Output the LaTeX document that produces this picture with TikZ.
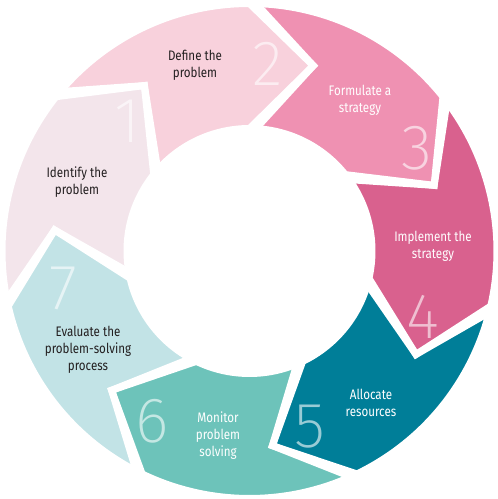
\documentclass[tikz,border=0pt]{standalone}
\usepackage{xcolor}
\usepackage{fontspec}
\setmainfont{Fira Sans}[FakeStretch=0.84]
\newfontfamily\numfont{Fira Sans ExtraLight}
\definecolor{segA}{HTML}{F3E5EB}
\definecolor{segB}{HTML}{F8D1DC}
\definecolor{segC}{HTML}{EF91B2}
\definecolor{segD}{HTML}{D9618E}
\definecolor{segE}{HTML}{007E98}
\definecolor{segF}{HTML}{6DC3BA}
\definecolor{segG}{HTML}{C2E3E6}
\definecolor{lbldark}{HTML}{231F20}
% one curved arrow of the ring: start angle, end angle, notch angle, tip angle
\newcommand{\segpath}[4]{%
  (#1:247.5) arc[start angle=#1, end angle=#2, radius=247.5] -- (#2:254.5) -- (#4:196)
  -- (#2:115.5) -- (#2:122.5) arc[start angle=#2, end angle=#1, radius=122.5] -- (#3:196) -- cycle}

\begin{document}
\begin{tikzpicture}[x=1pt, y=1pt, every node/.style={font=\fontsize{13.8}{17}\selectfont, align=center},
    darklbl/.style={text=lbldark}, lightlbl/.style={text=white},
    numlbl/.style={font=\numfont\fontsize{64}{64}\selectfont, text=white, opacity=0.6}]
  \useasboundingbox (-249.5,-248) rectangle (248.5,251);
  % fills first, then the white gaps on top
  \foreach \k/\col in {1/segA, 2/segB, 3/segC, 4/segD, 5/segE, 6/segF, 7/segG} {
    \pgfmathsetmacro\endA{90+51.4286*(2-\k)}
    \pgfmathsetmacro\startA{\endA+51.4286}
    \pgfmathsetmacro\notchA{\startA-19}
    \pgfmathsetmacro\tipA{\endA-19}
    \fill[\col] \segpath{\startA}{\endA}{\notchA}{\tipA};
  }
  \foreach \k in {1,...,7} {
    \pgfmathsetmacro\endA{90+51.4286*(2-\k)}
    \pgfmathsetmacro\startA{\endA+51.4286}
    \pgfmathsetmacro\notchA{\startA-19}
    \pgfmathsetmacro\tipA{\endA-19}
    \draw[white, line width=7pt, line join=miter] \segpath{\startA}{\endA}{\notchA}{\tipA};
  }
  % step numbers
  \node[numlbl] (n1) at (-122.5,130) {1};
  \node[numlbl] (n2) at (18.5,187) {2};
  \node[numlbl] (n3) at (167.5,103) {3};
  \node[numlbl] (n4) at (173.5,-66) {4};
  \node[numlbl] (n5) at (60.5,-176) {5};
  \node[numlbl] (n6) at (-97.5,-170) {6};
  \node[numlbl] (n7) at (-186.5,-37) {7};
  % step labels
  \node[darklbl] (identify) at (-172.5,69) {Identify the\\problem};
  \node[darklbl] (define) at (-54.5,186) {Define the\\problem};
  \node[lightlbl] (formulate) at (110.5,151) {Formulate a\\strategy};
  \node[lightlbl] (implement) at (183.5,5) {Implement the\\strategy};
  \node[lightlbl] (allocate) at (121.5,-152) {Allocate\\resources};
  \node[lightlbl] (monitor) at (-31.5,-185) {Monitor\\problem\\solving};
  \node[darklbl] (evaluate) at (-161.5,-99) {Evaluate the\\problem-solving\\process};
\end{tikzpicture}
\end{document}
